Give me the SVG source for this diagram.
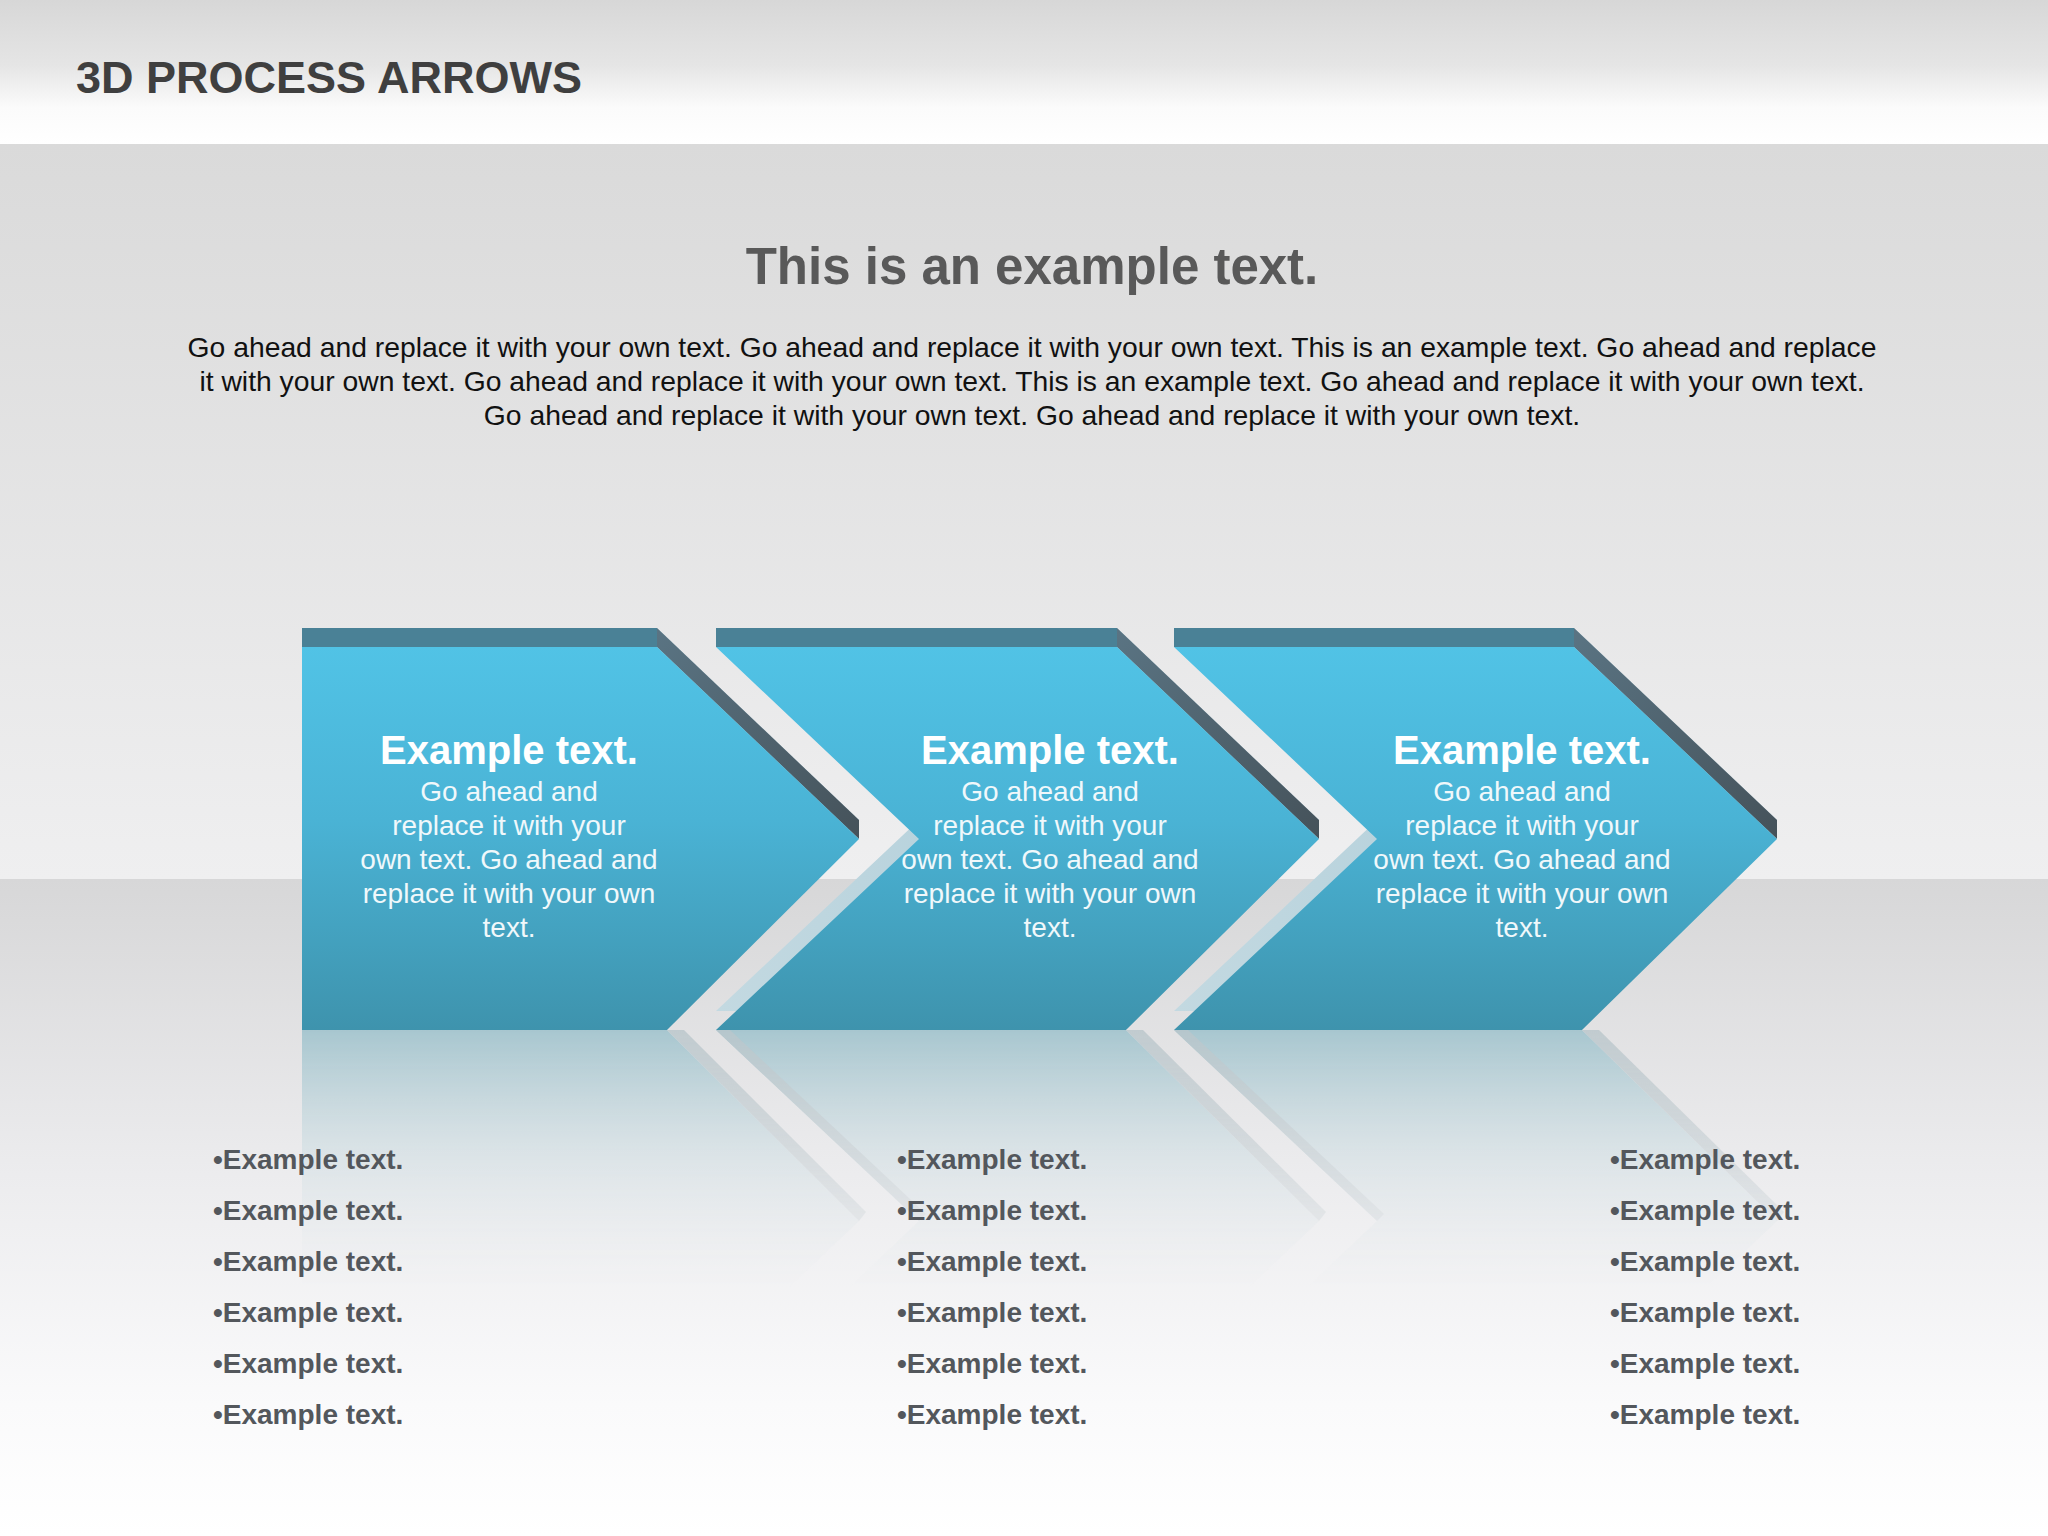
<svg xmlns="http://www.w3.org/2000/svg" width="2048" height="1536" viewBox="0 0 2048 1536">
<defs>
  <linearGradient id="hdr" x1="0" y1="0" x2="0" y2="1">
    <stop offset="0" stop-color="#d7d7d7"/>
    <stop offset="0.45" stop-color="#e5e5e5"/>
    <stop offset="0.75" stop-color="#fbfbfb"/>
    <stop offset="1" stop-color="#ffffff"/>
  </linearGradient>
  <linearGradient id="bgTop" x1="0" y1="0" x2="0" y2="1">
    <stop offset="0" stop-color="#dadada"/>
    <stop offset="1" stop-color="#efeff0"/>
  </linearGradient>
  <linearGradient id="bgBot" x1="0" y1="0" x2="0" y2="1">
    <stop offset="0" stop-color="#d7d7d8"/>
    <stop offset="0.45" stop-color="#ececee"/>
    <stop offset="0.8" stop-color="#fafafb"/>
    <stop offset="1" stop-color="#ffffff"/>
  </linearGradient>
  <linearGradient id="face" gradientUnits="userSpaceOnUse" x1="0" y1="647" x2="0" y2="1030">
    <stop offset="0" stop-color="#51c3e6"/>
    <stop offset="0.45" stop-color="#4ab3d5"/>
    <stop offset="1" stop-color="#3e93ad"/>
  </linearGradient>
  <linearGradient id="strip" x1="0" y1="0" x2="1" y2="1">
    <stop offset="0" stop-color="#5a7483"/>
    <stop offset="1" stop-color="#45525a"/>
  </linearGradient>
  <linearGradient id="glass" x1="0" y1="0" x2="1" y2="0">
    <stop offset="0" stop-color="#c3d9e1"/>
    <stop offset="1" stop-color="#a6c8d5"/>
  </linearGradient>
  <linearGradient id="reflFace" gradientUnits="userSpaceOnUse" x1="0" y1="1030" x2="0" y2="1280">
    <stop offset="0" stop-color="#a7c6cf"/>
    <stop offset="0.5" stop-color="#cddde2"/>
    <stop offset="1" stop-color="#e8ecef"/>
  </linearGradient>
  <linearGradient id="fade" gradientUnits="userSpaceOnUse" x1="0" y1="1030" x2="0" y2="1290">
    <stop offset="0" stop-color="#ffffff" stop-opacity="1"/>
    <stop offset="1" stop-color="#ffffff" stop-opacity="0"/>
  </linearGradient>
  <mask id="reflMask" maskUnits="userSpaceOnUse" x="0" y="1030" width="2048" height="300">
    <rect x="0" y="1030" width="2048" height="300" fill="url(#fade)"/>
  </mask>
</defs>
<style>
  .t{font-family:"Liberation Sans",Arial,sans-serif}
  .title{font-weight:bold;font-size:45px;fill:#3f3f3f}
  .heading{font-weight:bold;font-size:51px;fill:#595959;text-anchor:middle}
  .para{font-size:28.3px;fill:#111111;text-anchor:middle}
  .ah{font-weight:bold;font-size:40px;fill:#ffffff;text-anchor:middle}
  .ab{font-size:28px;fill:#f0f8fb;text-anchor:middle}
  .bul{font-weight:bold;font-size:28px;fill:#53575c}
  .band{fill:#4a8196}
  .side{fill:url(#strip)}
  .back{fill:url(#glass)}
  .front{fill:url(#face)}
  .rface{fill:url(#reflFace)}
  .rstrip{fill:#b9c5ca;opacity:0.8}
</style>

<!-- background -->
<rect x="0" y="0" width="2048" height="144" fill="url(#hdr)"/>
<rect x="0" y="144" width="2048" height="735" fill="url(#bgTop)"/>
<rect x="0" y="879" width="2048" height="657" fill="url(#bgBot)"/>

<text class="t title" x="76" y="93">3D PROCESS ARROWS</text>
<text class="t heading" x="1032" y="284">This is an example text.</text>
<g class="t para">
  <text x="1032" y="357">Go ahead and replace it with your own text. Go ahead and replace it with your own text. This is an example text. Go ahead and replace</text>
  <text x="1032" y="391">it with your own text. Go ahead and replace it with your own text. This is an example text. Go ahead and replace it with your own text.</text>
  <text x="1032" y="425">Go ahead and replace it with your own text. Go ahead and replace it with your own text.</text>
</g>

<!-- reflection -->
<g id="reflection" mask="url(#reflMask)">
  <polygon class="rface" points="302,1030 667,1030 859,1221 657,1413 302,1413"/>
  <polygon class="rface" points="716,1030 1126,1030 1319,1221 1117,1413 716,1413 919,1221"/>
  <polygon class="rface" points="1174,1030 1582,1030 1777,1221 1574,1413 1174,1413 1377,1221"/>
  <polygon class="rstrip" points="667,1030 684,1030 866,1212 859,1221"/>
  <polygon class="rstrip" points="1126,1030 1143,1030 1326,1212 1319,1221"/>
  <polygon class="rstrip" points="1582,1030 1599,1030 1784,1212 1777,1221"/>
  <polygon class="rstrip" opacity="0.5" points="716,1030 730,1030 926,1214 919,1221"/>
  <polygon class="rstrip" opacity="0.5" points="1174,1030 1188,1030 1384,1214 1377,1221"/>
</g>

<!-- arrows -->
<g id="arrow1">
  <polygon class="back" points="302,628 657,628 859,820 667,1011 302,1011"/>
  <rect class="band" x="302" y="628" width="355" height="19"/>
  <polygon class="side" points="657,628 859,820 859,839 657,647"/>
  <polygon class="front" points="302,647 657,647 859,839 667,1030 302,1030"/>
  <text class="t ah" x="509" y="764">Example text.</text>
  <g class="t ab">
    <text x="509" y="801">Go ahead and</text>
    <text x="509" y="835">replace it with your</text>
    <text x="509" y="869">own text. Go ahead and</text>
    <text x="509" y="903">replace it with your own</text>
    <text x="509" y="937">text.</text>
  </g>
</g>
<g id="arrow2">
  <polygon class="back" points="716,628 1117,628 1319,820 1126,1011 716,1011 919,820"/>
  <rect class="band" x="716" y="628" width="401" height="19"/>
  <polygon class="side" points="1117,628 1319,820 1319,839 1117,647"/>
  <polygon class="front" points="716,647 1117,647 1319,839 1126,1030 716,1030 919,839"/>
  <text class="t ah" x="1050" y="764">Example text.</text>
  <g class="t ab">
    <text x="1050" y="801">Go ahead and</text>
    <text x="1050" y="835">replace it with your</text>
    <text x="1050" y="869">own text. Go ahead and</text>
    <text x="1050" y="903">replace it with your own</text>
    <text x="1050" y="937">text.</text>
  </g>
</g>
<g id="arrow3">
  <polygon class="back" points="1174,628 1574,628 1777,820 1582,1011 1174,1011 1377,820"/>
  <rect class="band" x="1174" y="628" width="400" height="19"/>
  <polygon class="side" points="1574,628 1777,820 1777,839 1574,647"/>
  <polygon class="front" points="1174,647 1574,647 1777,839 1582,1030 1174,1030 1377,839"/>
  <text class="t ah" x="1522" y="764">Example text.</text>
  <g class="t ab">
    <text x="1522" y="801">Go ahead and</text>
    <text x="1522" y="835">replace it with your</text>
    <text x="1522" y="869">own text. Go ahead and</text>
    <text x="1522" y="903">replace it with your own</text>
    <text x="1522" y="937">text.</text>
  </g>
</g>

<!-- bullet lists -->
<g id="list1" class="t bul">
  <text x="213" y="1169">•Example text.</text>
  <text x="213" y="1220">•Example text.</text>
  <text x="213" y="1271">•Example text.</text>
  <text x="213" y="1322">•Example text.</text>
  <text x="213" y="1373">•Example text.</text>
  <text x="213" y="1424">•Example text.</text>
</g>
<g id="list2" class="t bul">
  <text x="897" y="1169">•Example text.</text>
  <text x="897" y="1220">•Example text.</text>
  <text x="897" y="1271">•Example text.</text>
  <text x="897" y="1322">•Example text.</text>
  <text x="897" y="1373">•Example text.</text>
  <text x="897" y="1424">•Example text.</text>
</g>
<g id="list3" class="t bul">
  <text x="1610" y="1169">•Example text.</text>
  <text x="1610" y="1220">•Example text.</text>
  <text x="1610" y="1271">•Example text.</text>
  <text x="1610" y="1322">•Example text.</text>
  <text x="1610" y="1373">•Example text.</text>
  <text x="1610" y="1424">•Example text.</text>
</g>
</svg>
